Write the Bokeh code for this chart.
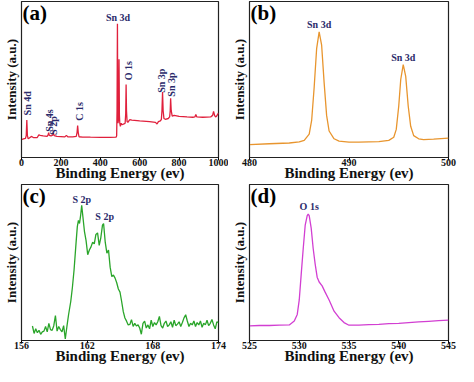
from bokeh.plotting import figure
from bokeh.layouts import gridplot
from bokeh.models import Range1d, FixedTicker, Label
from bokeh.embed import file_html
from bokeh.resources import INLINE

# ---------------- data ----------------
# (a) survey spectrum
a_energy = [0, 10, 20, 24, 27, 30, 34, 40, 50, 60, 80, 88, 95, 110, 130, 135, 138, 141,
            150, 158, 162, 166, 180, 200, 220, 228, 235, 260, 278, 282, 285, 288, 292,
            310, 350, 400, 450, 480, 483, 485, 486, 487, 488, 489, 490, 492, 494, 495,
            496, 497, 499, 502, 506, 510, 520, 526, 529, 531, 533, 536, 540, 545, 550,
            560, 600, 650, 680, 688, 695, 705, 710, 713, 716, 719, 723, 730, 745, 752,
            755, 757, 760, 765, 775, 800, 840, 870, 880, 885, 890, 920, 960, 970, 975,
            980, 985, 990, 995, 1000]
a_intensity = [11.5, 12, 12.2, 14, 24, 14, 12, 12.5, 13.5, 12.8, 12.8, 14.5, 14.2, 13.8,
               13.6, 14.5, 16, 14.2, 13.8, 14.3, 15.5, 14, 13.6, 13.4, 13.2, 14.2, 13.2,
               13.2, 13.5, 16, 20.5, 16, 13.3, 13.1, 13, 12.9, 12.9, 13, 14, 30, 60, 85.7,
               55, 28, 22, 24, 45, 63, 48, 27, 22, 20, 22, 21, 21.5, 22, 28, 46.8, 30, 23,
               22.5, 23.5, 24.3, 24, 23.5, 23, 22.5, 21.5, 23, 23.5, 24.5, 30, 42, 30, 25,
               24.5, 25, 26, 30, 38, 30, 26.5, 27, 26.3, 26, 25.8, 26, 27.5, 26, 25.8, 26,
               27, 29.5, 27, 26, 26.5, 27.5, 28.5]
a_labels = ["Sn 4d", "Sn 4s", "S 2p", "C 1s", "O 1s", "Sn 3p", "Sn 3p"]
a_label_x = [28, 140, 162, 292, 541, 712, 759]
a_label_y = [27, 16.5, 14.5, 23.5, 49.5, 41.5, 39]

# (b) Sn 3d
b_energy = [480, 482, 484, 485, 485.5, 486, 486.25, 486.5, 486.75, 487, 487.25, 487.5,
            487.75, 488, 488.5, 489, 490, 491, 492, 493, 494, 494.5, 494.75, 495, 495.2,
            495.45, 495.7, 495.95, 496.2, 496.5, 497, 497.5, 498.5, 500]
b_intensity = [8.3, 8.8, 9.3, 10, 11, 15, 24, 45, 70, 80.5, 72, 48, 27, 17, 12, 10.5, 9.9,
               9.8, 10, 10.2, 11, 13, 18, 33, 50, 59.5, 52, 33, 20, 14, 12, 11.5, 11.8, 12.4]
b_labels = ["Sn 3d", "Sn 3d"]
b_label_x = [487.0, 495.45]
b_label_y = [85.5, 64]

# (c) S 2p
c_energy = [157.0, 157.15, 157.3, 157.45, 157.6, 157.75, 157.9, 158.05, 158.2, 158.35,
            158.5, 158.65, 158.8, 158.95, 159.1, 159.25, 159.4, 159.55, 159.7, 159.85,
            160.0, 160.15, 160.3, 160.5, 160.65, 160.8, 161.0, 161.1, 161.2, 161.3, 161.4,
            161.5, 161.6, 161.75, 161.9, 162.05, 162.2, 162.35, 162.5, 162.65, 162.8,
            162.95, 163.1, 163.25, 163.4, 163.5, 163.65, 163.8, 163.95, 164.1, 164.25,
            164.4, 164.55, 164.7, 164.85, 165.0, 165.15, 165.3, 165.45, 165.6, 165.75,
            165.9, 166.05, 166.2, 166.35, 166.5, 166.65, 166.8, 166.95, 167.1, 167.25,
            167.4, 167.55, 167.7, 167.85, 168.0, 168.15, 168.3, 168.45, 168.6, 168.75,
            168.9, 169.05, 169.2, 169.35, 169.5, 169.65, 169.8, 169.95, 170.1, 170.25,
            170.4, 170.55, 170.7, 170.85, 171.0, 171.15, 171.3, 171.45, 171.6, 171.75,
            171.9, 172.05, 172.2, 172.35, 172.5, 172.65, 172.8, 172.95, 173.1, 173.25,
            173.4, 173.55, 173.7, 173.85, 174.0]
c_intensity = [9.3, 4.5, 7.5, 5, 6.5, 4, 5.5, 6, 9, 5.5, 11, 7, 6.5, 9.5, 16, 6, 9, 7,
               5.5, 9.5, 1, 9, 16.5, 25, 34, 45, 64, 73, 77, 75, 80, 86.6, 80, 70, 64, 55,
               58, 60, 63, 62, 68, 69, 61, 66, 74, 75, 63, 56, 58, 47, 41, 42, 40, 37, 33,
               31, 25, 18.5, 14.4, 12.4, 10, 10.3, 13.4, 9, 11, 9.3, 10, 8, 4, 11, 12.4,
               8, 10, 7.5, 13, 9, 11.5, 10, 12, 15.5, 9.5, 8, 11, 12.5, 9, 10, 12, 8.5,
               13, 9.5, 10.5, 12, 9, 11.5, 14.5, 16.5, 12.5, 9, 11, 10, 12.5, 9, 11.5,
               10, 12.5, 8.5, 11, 10, 13, 9.5, 11, 13.5, 10, 7.5, 12, 11.5]
c_labels = ["S 2p", "S 2p"]
c_label_x = [161.5, 163.6]
c_label_y = [90.5, 79.5]

# (d) O 1s
d_energy = [525, 526, 527, 528, 529, 529.5, 529.8, 530.0, 530.2, 530.4, 530.6, 530.8,
            530.9, 531.0, 531.2, 531.4, 531.6, 531.8, 532.0, 532.3, 532.6, 533.0, 533.5,
            534.0, 534.5, 535.0, 536, 537, 538, 539, 540, 541, 542, 543, 544, 545]
d_intensity = [9.4, 9.6, 9.6, 9.8, 10, 12.5, 16.7, 26, 42.7, 59, 74, 80, 81, 80, 72, 59,
               49, 40.6, 37.5, 35, 31, 26, 18.8, 14.6, 11.5, 9.8, 9.8, 10.2, 10.4, 10.8,
               11, 11.5, 11.9, 12.3, 12.7, 13]
d_labels = ["O 1s"]
d_label_x = [531.0]
d_label_y = [86]

x_title = "Binding Energy (ev)"
y_title = "Intensity (a.u.)"

SERIF = "'Liberation Serif', 'Times New Roman', serif"
NAVY = "#2b2b6b"


def make_panel(width, height, xr, ticks, letter, xs, ys, color,
               labels, lx, ly, rotated=None, border_right=8):
    p = figure(width=width, height=height, output_backend="svg",
               toolbar_location=None, x_range=Range1d(*xr), y_range=Range1d(0, 100),
               min_border_top=1, min_border_right=border_right, min_border_left=0,
               min_border_bottom=0)
    p.grid.visible = False
    p.background_fill_color = "white"
    p.border_fill_color = "white"
    p.outline_line_color = "#222222"
    p.outline_line_width = 1.2
    p.outline_line_alpha = 1.0

    p.xaxis.ticker = FixedTicker(ticks=ticks)
    p.xaxis.minor_tick_line_color = None
    p.xaxis.major_tick_in = 0
    p.xaxis.major_tick_out = 3
    p.xaxis.major_label_standoff = -2
    p.xaxis.major_label_text_font = SERIF
    p.xaxis.major_label_text_font_style = "bold"
    p.xaxis.major_label_text_font_size = "10px"
    p.xaxis.major_label_text_color = "#111111"
    p.xaxis.axis_label = x_title
    p.xaxis.axis_label_standoff = -4
    p.xaxis.axis_label_text_font = SERIF
    p.xaxis.axis_label_text_font_style = "bold"
    p.xaxis.axis_label_text_font_size = "15px"
    p.xaxis.axis_label_text_color = "#111111"
    p.xaxis.axis_line_color = "#222222"

    p.yaxis.ticker = FixedTicker(ticks=[])
    p.yaxis.minor_tick_line_color = None
    p.yaxis.major_tick_line_color = None
    p.yaxis.major_tick_out = 0
    p.yaxis.major_label_standoff = 0
    p.yaxis.major_label_text_font_size = "0px"
    p.yaxis.axis_label = y_title
    p.yaxis.axis_label_standoff = 3
    p.yaxis.axis_label_text_font = SERIF
    p.yaxis.axis_label_text_font_style = "bold"
    p.yaxis.axis_label_text_font_size = "13px"
    p.yaxis.axis_label_text_color = "#111111"
    p.yaxis.axis_line_color = "#222222"

    p.line(xs, ys, line_color=color, line_width=1.3)

    for i, (t, x, y) in enumerate(zip(labels, lx, ly)):
        rot = rotated[i] if rotated else False
        if rot:
            p.add_layout(Label(x=x, y=y, text=t, angle=1.5708, text_align="left",
                               text_baseline="middle", text_font=SERIF,
                               text_font_style="bold", text_font_size="10px",
                               text_color=NAVY))
        else:
            p.add_layout(Label(x=x, y=y, text=t, text_align="center",
                               text_baseline="middle", text_font=SERIF,
                               text_font_style="bold", text_font_size="10px",
                               text_color=NAVY))

    p.add_layout(Label(x=xr[0] + (xr[1] - xr[0]) * 0.005, y=100.5, text=letter,
                       text_align="left", text_baseline="top", text_font=SERIF,
                       text_font_style="bold", text_font_size="21px",
                       text_color="#000000"))
    return p


pa = make_panel(228, 183, (0, 1000), [0, 200, 400, 600, 800, 1000], "(a)",
                a_energy, a_intensity, "#e0203c",
                a_labels + ["Sn 3d"], a_label_x + [490], a_label_y + [90],
                rotated=[True] * 7 + [False], border_right=10)
pb = make_panel(230, 183, (480, 500), [480, 490, 500], "(b)",
                b_energy, b_intensity, "#e8952e",
                b_labels, b_label_x, b_label_y, border_right=10)
pc = make_panel(228, 183, (156, 174), [156, 162, 168, 174], "(c)",
                c_energy, c_intensity, "#2aa52a",
                c_labels, c_label_x, c_label_y, border_right=10)
pd_ = make_panel(230, 183, (525, 545), [525, 530, 535, 540, 545], "(d)",
                 d_energy, d_intensity, "#d23fd2",
                 d_labels, d_label_x, d_label_y, border_right=10)

grid = gridplot([[pa, pb], [pc, pd_]], toolbar_location=None)

open("out.html", "w").write(file_html(grid, INLINE))
